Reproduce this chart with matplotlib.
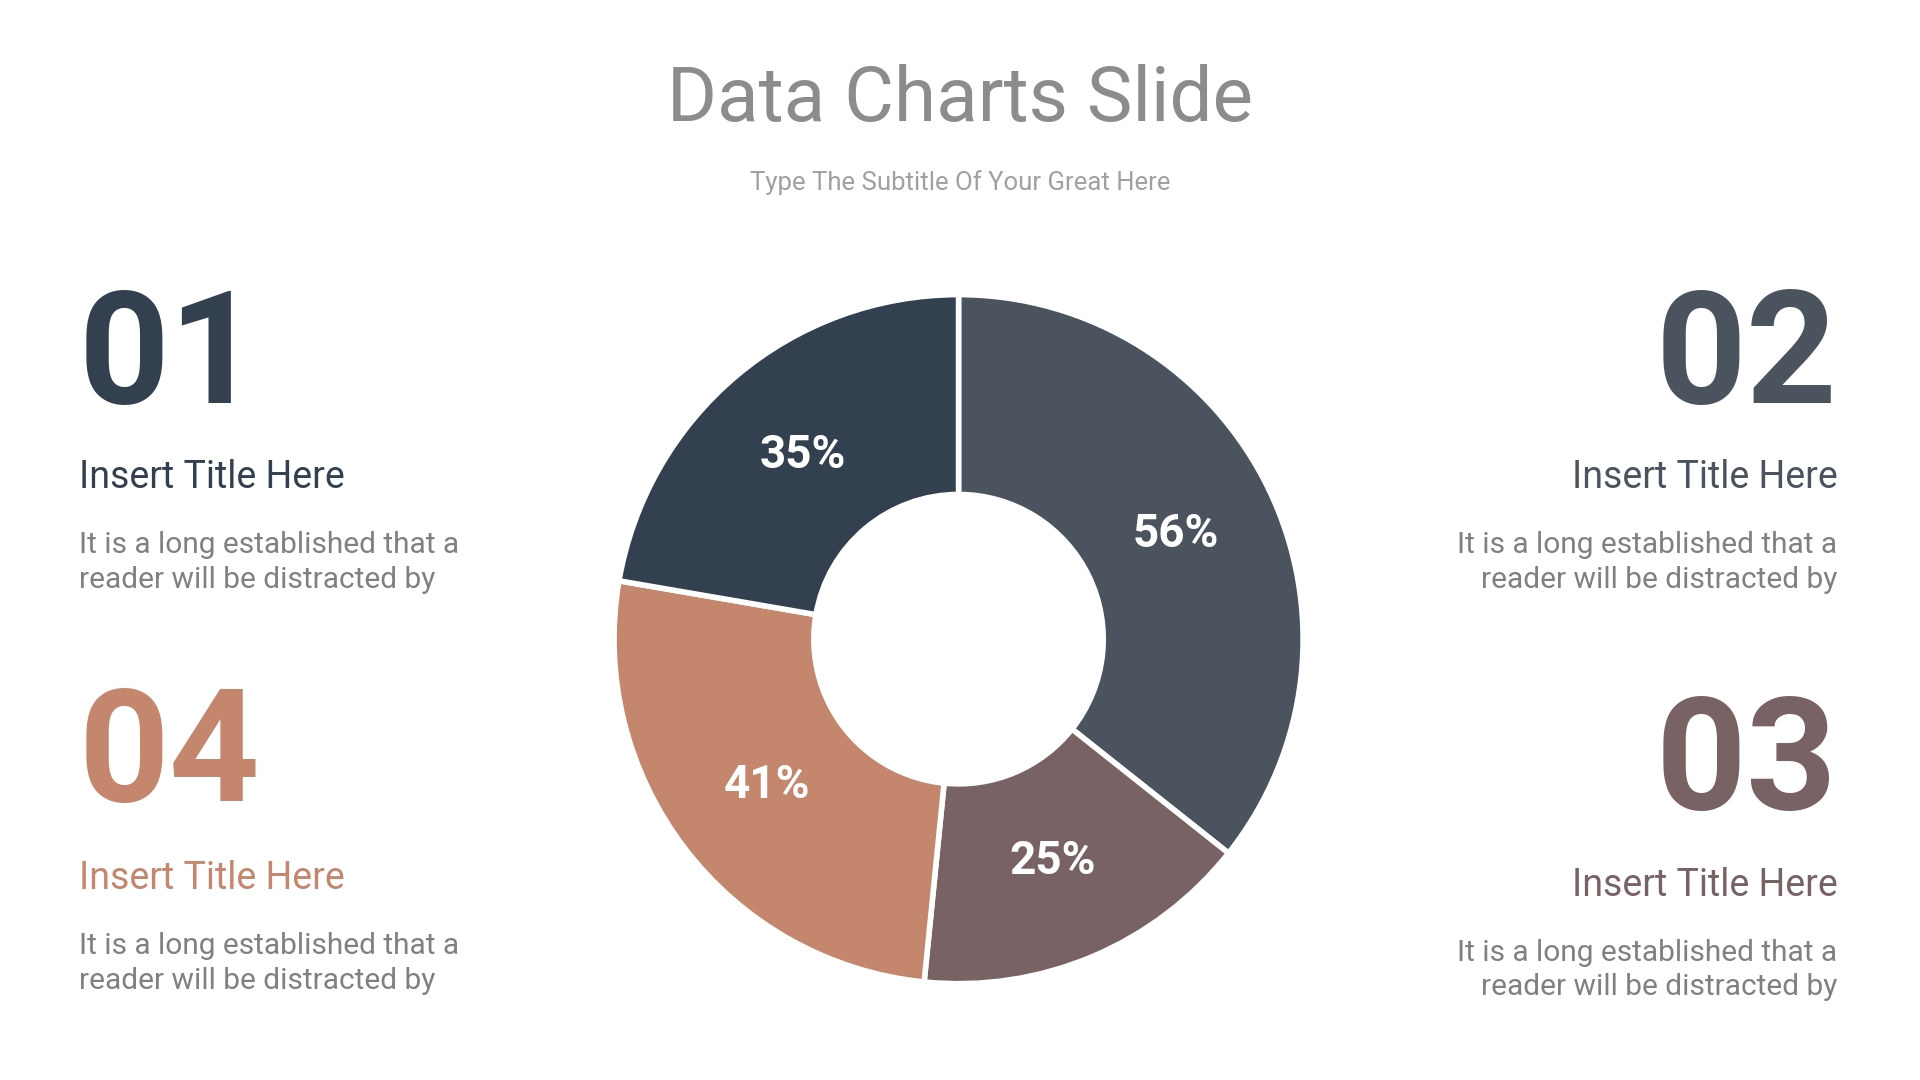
import numpy as np
import matplotlib.pyplot as plt

plt.rcParams['font.family'] = ['Roboto', 'DejaVu Sans']

values = [56, 25, 41, 35]
labels = ["56%", "25%", "41%", "35%"]
colors = ["#4A535E", "#786264", "#C4866C", "#33404F"]

numbers = ["01", "02", "03", "04"]
titles = ["Insert Title Here"] * 4
body = "It is a long established that a\nreader will be distracted by"
block_colors = ["#33404F", "#4A535E", "#786264", "#C4866C"]

fig = plt.figure(figsize=(19.2, 10.8), dpi=100)

fig.text(0.5, 0.907, "Data Charts Slide", ha="center", va="center",
         fontsize=55, color="#8C8C8C")
fig.text(0.5, 0.831, "Type The Subtitle Of Your Great Here", ha="center",
         va="center", fontsize=18.5, color="#A0A0A0")

ax = fig.add_axes([0.318, 0.086, 0.3625, 0.6444])
ax.pie(values, colors=colors, startangle=90, counterclock=False,
       wedgeprops=dict(width=0.58, edgecolor="white", linewidth=4))
total = sum(values)
start = 90.0
for v, lab in zip(values, labels):
    span = v / total * 360
    mid = np.deg2rad(start - span / 2)
    ax.text(0.70 * np.cos(mid), 0.70 * np.sin(mid), lab, ha="center",
            va="center", fontsize=33, fontweight="bold", color="white")
    start -= span
ax.set_aspect("equal")
ax.set_xlim(-1.01, 1.01)
ax.set_ylim(-1.01, 1.01)

# (x, ha, number y, title y, body y)
layout = [
    (0.041, "left", 0.667, 0.558, 0.479),
    (0.957, "right", 0.667, 0.558, 0.479),
    (0.957, "right", 0.291, 0.180, 0.102),
    (0.041, "left", 0.298, 0.187, 0.108),
]
for num, tt, c, (x, ha, ny, ty, by) in zip(numbers, titles, block_colors,
                                           layout):
    fig.text(x, ny, num, ha=ha, va="center", fontsize=114,
             fontweight="bold", color=c)
    fig.text(x, ty, tt, ha=ha, va="center", fontsize=27, color=c)
    fig.text(x, by, body, ha=ha, va="center", fontsize=21.5, color="#808080",
             linespacing=1.3, multialignment=ha)

fig.savefig("out.png", dpi=100)
